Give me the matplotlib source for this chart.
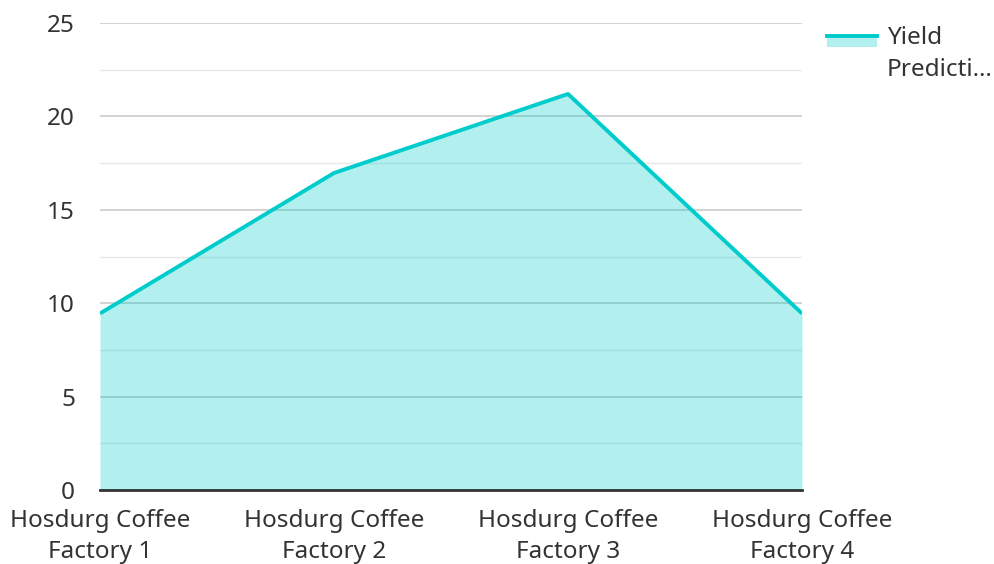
import matplotlib.pyplot as plt
from matplotlib.patches import Rectangle
from matplotlib.lines import Line2D

plt.rcParams['font.family'] = ['Noto Sans', 'DejaVu Sans']

factories = ["Hosdurg Coffee\nFactory 1", "Hosdurg Coffee\nFactory 2",
             "Hosdurg Coffee\nFactory 3", "Hosdurg Coffee\nFactory 4"]
yield_pred = [9.45, 16.97, 21.2, 9.45]
yticks = [0, 5, 10, 15, 20, 25]

line_col = '#00cccc'
text_col = '#333333'
fs = 17.5

fig = plt.figure(figsize=(9.94, 5.64), dpi=100)
ax = fig.add_axes([100/994, 74/564, 702/994, 467/564])

x = list(range(len(factories)))
ax.fill_between(x, 0, yield_pred, color=line_col, alpha=0.3, linewidth=0, zorder=2)
ax.plot(x, yield_pred, color=line_col, linewidth=2.8, zorder=3, solid_capstyle='butt')

ax.set_xlim(0, len(factories) - 1)
ax.set_ylim(0, 25)
ax.set_yticks(yticks)
ax.set_yticks([2.5, 7.5, 12.5, 17.5, 22.5], minor=True)
ax.grid(axis='y', which='major', color='#cccccc', linewidth=1.2, zorder=1)
ax.grid(axis='y', which='minor', color='#e8e8e8', linewidth=1.0, zorder=1)
ax.set_axisbelow(True)
ax.set_xticks(x)
ax.set_xticklabels(factories, linespacing=1.38)
ax.tick_params(axis='both', which='both', length=0, labelsize=fs, labelcolor=text_col)
ax.tick_params(axis='x', pad=14)
ax.tick_params(axis='y', pad=18)
for s in ['top', 'right', 'left']:
    ax.spines[s].set_visible(False)
ax.spines['bottom'].set_color('#333333')
ax.spines['bottom'].set_linewidth(2)
ax.spines['bottom'].set_zorder(4)

# legend drawn by hand
fig.patches.append(Rectangle((827/994, (564-47)/564), 50/994, 12/564,
                             transform=fig.transFigure, color=line_col, alpha=0.3, lw=0))
fig.lines.append(Line2D([827/994, 877/994], [(564-36)/564]*2,
                        transform=fig.transFigure, color=line_col, lw=2.8))
fig.text(887/994, (564-38)/564, "Yield", fontsize=fs, color=text_col,
         va='center', ha='left')
fig.text(887/994, (564-70)/564, "Predicti\u2026", fontsize=fs, color=text_col,
         va='center', ha='left')

fig.savefig("out.png", dpi=100)
